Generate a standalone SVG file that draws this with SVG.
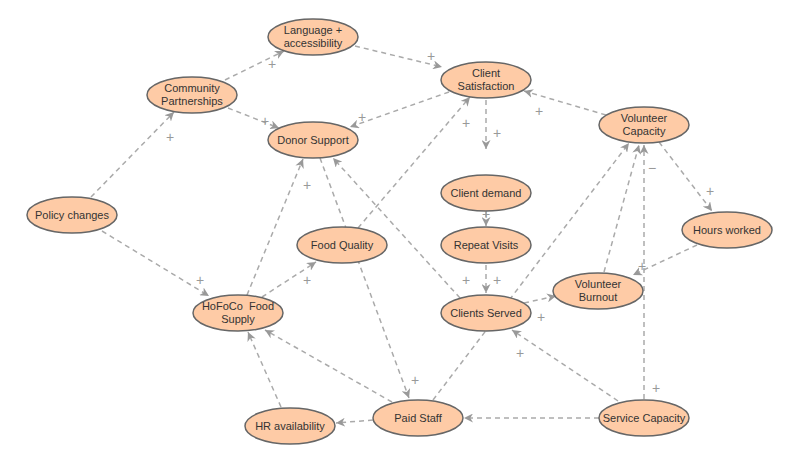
<svg xmlns="http://www.w3.org/2000/svg" width="800" height="462" viewBox="0 0 800 462">
<style>
.n ellipse{fill:#FECBA6;stroke:#666;stroke-width:1.5}
.n text{font-family:"Liberation Sans",Arial,sans-serif;font-size:11px;fill:#333;text-anchor:middle}
.e line{stroke:#aaa;stroke-width:1.5;stroke-dasharray:5,4;fill:none;marker-end:url(#ah)}
.l text{font-family:"Liberation Sans",sans-serif;font-size:14px;fill:#999;text-anchor:middle}
</style>
<defs>
<marker id="ah" viewBox="0 0 10 10" refX="10" refY="5" markerWidth="9" markerHeight="9" markerUnits="userSpaceOnUse" orient="auto">
<path d="M0,0 L10,5 L0,10 L3,5 z" fill="#999"/>
</marker>
</defs>
<rect width="800" height="462" fill="#fff"/>
<g class="e" id="connectors">
<line x1="225" y1="80" x2="284" y2="51"/>
<line x1="355" y1="46" x2="442" y2="67"/>
<line x1="228" y1="108" x2="279" y2="128"/>
<line x1="449" y1="92" x2="350" y2="127"/>
<line x1="91" y1="197" x2="174" y2="112"/>
<line x1="102" y1="231" x2="209" y2="296"/>
<line x1="247" y1="295" x2="303" y2="159"/>
<line x1="262" y1="297" x2="316" y2="262"/>
<line x1="358" y1="228" x2="470" y2="97"/>
<line x1="486" y1="100" x2="486" y2="149"/>
<line x1="606" y1="115" x2="524" y2="91"/>
<line x1="320" y1="158" x2="409" y2="398"/>
<line x1="460" y1="298" x2="333" y2="158"/>
<line x1="486" y1="212" x2="486" y2="226"/>
<line x1="486" y1="265" x2="486" y2="293"/>
<line x1="524" y1="303" x2="556" y2="296"/>
<line x1="433" y1="400" x2="629" y2="143"/>
<line x1="604" y1="272" x2="639" y2="145"/>
<line x1="644" y1="399" x2="644" y2="145"/>
<line x1="659" y1="142" x2="712" y2="211"/>
<line x1="697" y1="245" x2="633" y2="275"/>
<line x1="618" y1="401" x2="512" y2="330"/>
<line x1="599" y1="418" x2="464" y2="418"/>
<line x1="373" y1="420" x2="336" y2="423"/>
<line x1="281" y1="407" x2="248" y2="332"/>
<line x1="392" y1="402" x2="265" y2="330"/>
</g>
<g class="l" id="labels">
<text x="272" y="69">+</text>
<text x="431" y="61">+</text>
<text x="265" y="126">+</text>
<text x="362" y="122">+</text>
<text x="170" y="142">+</text>
<text x="200" y="285">+</text>
<text x="307" y="190">+</text>
<text x="307" y="285">+</text>
<text x="466" y="128">+</text>
<text x="497" y="138">+</text>
<text x="539" y="116">+</text>
<text x="415" y="385">+</text>
<text x="466" y="285">+</text>
<text x="497" y="285">+</text>
<text x="486" y="219">+</text>
<text x="541" y="322">+</text>
<text x="520" y="358">+</text>
<text x="656" y="393">+</text>
<text x="652" y="173">−</text>
<text x="710" y="196">+</text>
<text x="642" y="271">+</text>
</g>
<g class="n" id="n-language"><ellipse cx="313" cy="37" rx="45" ry="18"/><text x="313" y="34">Language +</text><text x="313" y="47">accessibility</text></g>
<g class="n" id="n-community"><ellipse cx="192" cy="95" rx="45" ry="18"/><text x="192" y="92">Community</text><text x="192" y="105">Partnerships</text></g>
<g class="n" id="n-donor"><ellipse cx="313" cy="140" rx="45" ry="18"/><text x="313" y="144">Donor Support</text></g>
<g class="n" id="n-clientsat"><ellipse cx="486" cy="80" rx="45" ry="18"/><text x="486" y="77">Client</text><text x="486" y="90">Satisfaction</text></g>
<g class="n" id="n-volcap"><ellipse cx="644" cy="125" rx="45" ry="18"/><text x="644" y="122">Volunteer</text><text x="644" y="135">Capacity</text></g>
<g class="n" id="n-demand"><ellipse cx="486" cy="193" rx="45" ry="18"/><text x="486" y="197">Client demand</text></g>
<g class="n" id="n-repeat"><ellipse cx="486" cy="245" rx="45" ry="18"/><text x="486" y="249">Repeat Visits</text></g>
<g class="n" id="n-served"><ellipse cx="486" cy="313" rx="45" ry="18"/><text x="486" y="317">Clients Served</text></g>
<g class="n" id="n-foodq"><ellipse cx="342" cy="245" rx="45" ry="18"/><text x="342" y="249">Food Quality</text></g>
<g class="n" id="n-policy"><ellipse cx="72" cy="215" rx="45" ry="18"/><text x="72" y="219">Policy changes</text></g>
<g class="n" id="n-hofoco"><ellipse cx="238" cy="313" rx="45" ry="18"/><text x="238" y="310" style="white-space:pre">HoFoCo  Food</text><text x="238" y="323">Supply</text></g>
<g class="n" id="n-burnout"><ellipse cx="598" cy="291" rx="45" ry="18"/><text x="598" y="288">Volunteer</text><text x="598" y="301">Burnout</text></g>
<g class="n" id="n-hours"><ellipse cx="727" cy="230" rx="45" ry="18"/><text x="727" y="234">Hours worked</text></g>
<g class="n" id="n-hr"><ellipse cx="290" cy="426" rx="45" ry="18"/><text x="290" y="430">HR availability</text></g>
<g class="n" id="n-paid"><ellipse cx="418" cy="418" rx="45" ry="18"/><text x="418" y="422">Paid Staff</text></g>
<g class="n" id="n-service"><ellipse cx="644" cy="418" rx="45" ry="18"/><text x="644" y="422">Service Capacity</text></g>
</svg>
